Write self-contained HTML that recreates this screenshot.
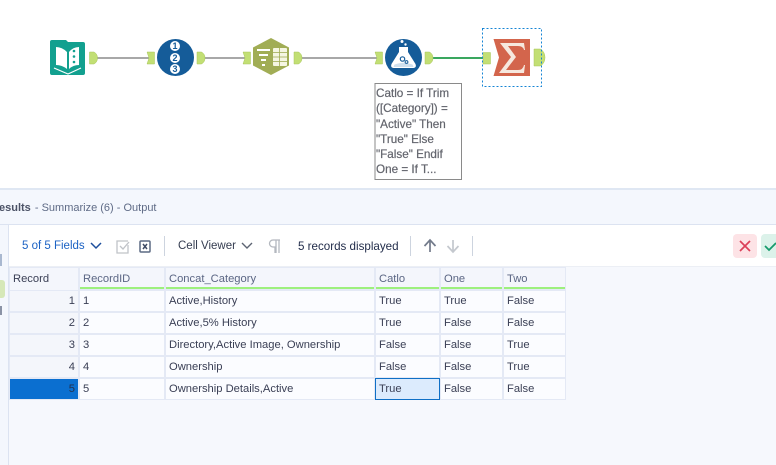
<!DOCTYPE html>
<html><head><meta charset="utf-8">
<style>
html,body{margin:0;padding:0;width:776px;height:465px;overflow:hidden;background:#fff;font-family:"Liberation Sans",sans-serif}
.a{position:absolute;white-space:nowrap}
.c{position:absolute;height:20px;line-height:20px;font-size:11.200px;color:#3a3f55;background:#fbfcff;box-sizing:border-box;padding-left:3px;white-space:nowrap}
.h{position:absolute;top:268px;height:19px;line-height:23px;font-size:11.200px;color:#5b6684;background:#f4f6fc;box-sizing:border-box;padding-left:3px}
.g{position:absolute;top:287px;height:2px;background:#9df07d}
</style></head><body>
<svg class="a" style="left:0;top:0" width="776" height="190" viewBox="0 0 776 190">
<g stroke="#a8a8a8" stroke-width="2"><line x1="96" y1="58" x2="150" y2="58"/><line x1="204" y1="58" x2="246" y2="58"/><line x1="300" y1="58" x2="378" y2="58"/></g>
<line x1="432" y1="58" x2="484" y2="58" stroke="#3aa75f" stroke-width="2"/>
<!-- anchors -->
<g fill="#c2df74" stroke="#a8c65a" stroke-width=".5">
<path d="M89.500 52h4.500q3.500 2 3.500 6t-3.500 6h-4.500z"/><path d="M197 52h4.500q3.500 2 3.500 6t-3.500 6H197z"/><path d="M294 52h4.500q3.500 2 3.500 6t-3.500 6H294z"/><path d="M425 52h4.500q3.500 2 3.500 6t-3.500 6H425z"/>
<path d="M147 52h7.500v12H147l2-6z"/><path d="M243 52h7.500v12H243l2-6z"/><path d="M375 52h7.500v12H375l2-6z"/><path d="M483 52.500h7.500v11.500H483z"/>
<path d="M534 49h6.500q4.500 3 4.500 8.500t-4.500 8.500H534z"/></g>
<!-- input book -->
<path d="M52 40h14l2 2h15a2 2 0 0 1 2 2v29a2 2 0 0 1-2 2H52a2 2 0 0 1-2-2V42a2 2 0 0 1 2-2z" fill="#12a08f"/>
<path d="M56 47q6 0 11 5v17q-5-4-11-4zM79 47q-6 0-10 5v17q4-4 10-4z" fill="#fff"/>
<path d="M54 68l14 6 13-6" fill="none" stroke="#fff" stroke-width="1.200"/>
<g fill="#12a08f"><circle cx="74" cy="51" r="1.300"/><circle cx="74" cy="56.500" r="1.300"/><circle cx="74" cy="62" r="1.300"/></g>
<!-- record id -->
<circle cx="175.500" cy="57.500" r="18.500" fill="#155c99"/>
<g fill="#fff"><circle cx="175" cy="46" r="5"/><circle cx="175" cy="58" r="5"/><circle cx="175" cy="69" r="5"/></g>
<g fill="#155c99" font-family="Liberation Sans" font-size="9" font-weight="bold" text-anchor="middle"><text x="175" y="49">1</text><text x="175" y="61">2</text><text x="175" y="72">3</text></g>
<!-- hex -->
<path d="M271 38l18 9.500v18l-18 9.500-18-9.500v-18z" fill="#a1ad55"/>
<g fill="#fff"><rect x="257" y="49" width="13" height="2"/><rect x="259" y="54" width="9" height="2"/><rect x="261" y="59" width="5" height="2"/><rect x="262" y="64" width="3" height="2"/></g>
<g fill="#f5f6e2"><rect x="273" y="48" width="14" height="18" rx="1"/></g>
<g stroke="#a1ad55" stroke-width=".8"><line x1="273" y1="52.500" x2="287" y2="52.500"/><line x1="273" y1="57" x2="287" y2="57"/><line x1="273" y1="61.500" x2="287" y2="61.500"/><line x1="279.500" y1="48" x2="279.500" y2="66"/></g>
<!-- formula -->
<circle cx="403.500" cy="57.500" r="18.500" fill="#155c99"/>
<path d="M399 47h9v5l7.500 12q1.500 4-3 4h-18q-4.500 0-3-4L399 52z" fill="#fff"/>
<path d="M394.500 64.500q9-3.500 18 0l1 2.500h-20z" fill="#cfe0ee"/>
<circle cx="402.500" cy="59" r="2.200" fill="none" stroke="#155c99" stroke-width="1.200"/><circle cx="406.500" cy="62" r="1.400" fill="none" stroke="#155c99"/>
<circle cx="402" cy="41.500" r="1.500" fill="#fff"/><circle cx="405.500" cy="44.500" r="1.200" fill="#fff"/>
<!-- sigma -->
<rect x="482.500" y="28.500" width="59" height="58" fill="none" stroke="#1684d4" stroke-width="1" stroke-dasharray="2 2"/>
<path d="M493.500 39H530v37h-36.500l5.500-18.500z" fill="#d3654c"/>
<path d="M500 43h24l1 7h-1q-1-4-6-4h-10l8 11-10 13h12q5 0 6-5h1l-1 8h-25l12-16z" fill="#f6e8de"/>
<!-- tooltip -->
<rect x="375" y="83.500" width="86.500" height="96" fill="#fff" stroke="#8a8a8a"/>
</svg>
<div class="a" style="left:376px;top:86px;font-size:11.700px;line-height:15.300px;color:#62646c;-webkit-text-stroke:.2px #62646c">Catlo = If Trim<br>([Category]) =<br>"Active" Then<br>"True" Else<br>"False" Endif<br>One = If T...</div>

<div class="a" style="left:0;top:188px;width:776px;height:37px;background:#f4f7fd;border-top:2px solid #dfe7f3;box-sizing:border-box"></div>
<div class="a" style="left:0;top:224px;width:776px;height:1px;background:#dce3f1"></div>
<div class="a" style="left:-1px;top:200px;font-size:11px;line-height:15px;color:#4b5266;margin-top:1px"><b>esults</b><span style="color:#5f6b86;margin-left:1px"> - Summarize (6) - Output</span></div>
<div class="a" style="left:0;top:225px;width:9px;height:240px;background:#f4f7fd"></div>
<div class="a" style="left:8px;top:225px;width:1px;height:240px;background:#dce3f1"></div>
<div class="a" style="left:0;top:254px;width:2px;height:12px;background:#a9b8d0"></div>
<div class="a" style="left:0;top:280px;width:5px;height:18px;background:#d6e8b8;border-radius:0 3px 3px 0"></div>
<div class="a" style="left:0;top:306px;width:2px;height:9px;background:#8b93a6"></div>
<div class="a" style="left:9px;top:225px;width:767px;height:41px;background:#fff"></div>
<div class="a" style="left:9px;top:266px;width:767px;height:199px;background:#f6f8fd"></div>
<div class="a" style="left:9px;top:266px;width:767px;height:1px;background:#eceff5"></div>

<div class="a" style="left:22px;top:239px;font-size:11.500px;line-height:15px;color:#1b62c4">5 of 5 Fields</div>
<svg class="a" style="left:85px;top:225px" width="400" height="40" viewBox="85 225 400 40">
<path d="M91 243l5 5 5-5" fill="none" stroke="#1d4e9c" stroke-width="1.500"/>
<path d="M128 241h-11v12h11v-8" fill="none" stroke="#c0c3c8" stroke-width="1.300"/><path d="M120 246l3 3 6-7" fill="none" stroke="#c0c3c8" stroke-width="1.300"/>
<rect x="140" y="241" width="10" height="11" rx="1" fill="none" stroke="#5c6a84" stroke-width="1.500"/><path d="M143 244l4 5M147 244l-4 5" stroke="#3f4c66" stroke-width="1.500"/>
<line x1="164.500" y1="236" x2="164.500" y2="256" stroke="#cdd4df"/>
<path d="M242 243l5 5 5-5" fill="none" stroke="#5d6473" stroke-width="1.400"/>
<path d="M280 240h-7a3.500 3.500 0 0 0 0 7h2v6M279 240v13M276 240v13" fill="none" stroke="#b4b8bf" stroke-width="1.300"/>
<line x1="410.500" y1="236" x2="410.500" y2="256" stroke="#cdd4df"/>
<path d="M430 252v-11M424.500 246l5.500-6 5.500 6" fill="none" stroke="#737b8b" stroke-width="1.700"/>
<path d="M453 240v11M447.500 246l5.500 6 5.500-6" fill="none" stroke="#c4c8ce" stroke-width="1.700"/>
<line x1="472.500" y1="236" x2="472.500" y2="256" stroke="#cdd4df"/>
</svg>
<div class="a" style="left:178px;top:239px;font-size:11.500px;line-height:15px;color:#343c50">Cell Viewer</div>
<div class="a" style="left:298px;top:239px;font-size:11.600px;line-height:15px;color:#1f2a48">5 records displayed</div>
<div class="a" style="left:733px;top:234px;width:24px;height:24px;background:#fde3e6;border-radius:4px"></div>
<div class="a" style="left:761px;top:234px;width:24px;height:24px;background:#dcf2ea;border-radius:4px"></div>
<svg class="a" style="left:733px;top:234px" width="43" height="24"><path d="M7 7l10 10M17 7L7 17" stroke="#dc3f58" stroke-width="1.700"/><path d="M32 12l4 4 7-7" fill="none" stroke="#159a6c" stroke-width="1.700"/></svg>

<div class="a" style="left:9px;top:267px;width:557px;height:133px;background:#e4e9f5"></div>
<div class="h" style="left:10px;width:68px;height:22px;color:#3a3f55">Record</div>
<div class="h" style="left:80px;width:84px">RecordID</div><div class="g" style="left:80px;width:84px"></div>
<div class="h" style="left:166px;width:208px">Concat_Category</div><div class="g" style="left:166px;width:208px"></div>
<div class="h" style="left:376px;width:63px">Catlo</div><div class="g" style="left:376px;width:63px"></div>
<div class="h" style="left:441px;width:61px">One</div><div class="g" style="left:441px;width:61px"></div>
<div class="h" style="left:504px;width:61px">Two</div><div class="g" style="left:504px;width:61px"></div>

<div class="c" style="left:10px;top:291px;width:68px;background:#f4f6fb;text-align:right;padding:0 3px 0 0">1</div>
<div class="c" style="left:80px;top:291px;width:84px">1</div><div class="c" style="left:166px;top:291px;width:208px">Active,History</div><div class="c" style="left:376px;top:291px;width:63px">True</div><div class="c" style="left:441px;top:291px;width:61px">True</div><div class="c" style="left:504px;top:291px;width:61px">False</div>
<div class="c" style="left:10px;top:313px;width:68px;background:#f4f6fb;text-align:right;padding:0 3px 0 0">2</div>
<div class="c" style="left:80px;top:313px;width:84px">2</div><div class="c" style="left:166px;top:313px;width:208px">Active,5% History</div><div class="c" style="left:376px;top:313px;width:63px">True</div><div class="c" style="left:441px;top:313px;width:61px">False</div><div class="c" style="left:504px;top:313px;width:61px">False</div>
<div class="c" style="left:10px;top:335px;width:68px;background:#f4f6fb;text-align:right;padding:0 3px 0 0">3</div>
<div class="c" style="left:80px;top:335px;width:84px">3</div><div class="c" style="left:166px;top:335px;width:208px">Directory,Active Image, Ownership</div><div class="c" style="left:376px;top:335px;width:63px">False</div><div class="c" style="left:441px;top:335px;width:61px">False</div><div class="c" style="left:504px;top:335px;width:61px">True</div>
<div class="c" style="left:10px;top:357px;width:68px;background:#f4f6fb;text-align:right;padding:0 3px 0 0">4</div>
<div class="c" style="left:80px;top:357px;width:84px">4</div><div class="c" style="left:166px;top:357px;width:208px">Ownership</div><div class="c" style="left:376px;top:357px;width:63px">False</div><div class="c" style="left:441px;top:357px;width:61px">False</div><div class="c" style="left:504px;top:357px;width:61px">True</div>
<div class="c" style="left:10px;top:379px;width:68px;background:#0b6fd0;text-align:right;padding:0 3px 0 0;color:#23324f">5</div>
<div class="c" style="left:80px;top:379px;width:84px">5</div><div class="c" style="left:166px;top:379px;width:208px">Ownership Details,Active</div><div class="c" style="left:375px;top:378px;width:65px;height:22px;line-height:20px;background:#dcebfd;border:1px solid #0f6fc6;padding-left:3px">True</div><div class="c" style="left:441px;top:379px;width:61px">False</div><div class="c" style="left:504px;top:379px;width:61px">False</div>
</body></html>
